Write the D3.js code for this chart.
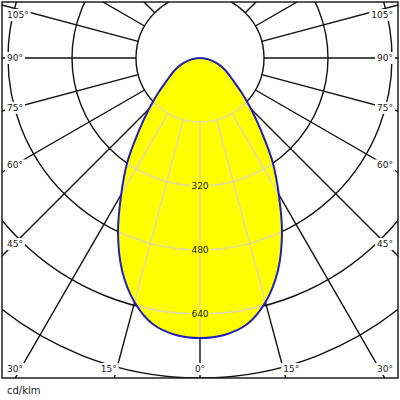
<!DOCTYPE html>
<html>
<head>
<meta charset="utf-8">
<script src="https://cdn.jsdelivr.net/npm/d3@7"></script>
<style>
  body { margin: 0; background: #fff; }
  text { font-family: "DejaVu Sans", Verdana, sans-serif; }
</style>
</head>
<body>
<div id="chart"></div>
<script>
// intensity distribution, symmetric, angle from nadir (deg) and cd/klm
var angles = [0, 5, 10, 15, 20, 25, 30, 35, 40, 45, 50, 55, 60, 65, 70, 75, 80, 85, 90];
var intensity = [700, 695, 676, 632, 568, 485, 394, 316, 238, 181, 137, 104, 84, 68, 52, 37, 24, 12, 0];

// grid rings and labelled rings
var rings = [160, 320, 480, 640, 800];
var ringLabels = [320, 480, 640];

// angle labels
var angleLabels = [0, 15, 30, 45, 60, 75, 90, 105];
var unitLabel = "cd/klm";

var width = 400, height = 400;
var cx = 200, cy = 58;
var frame = {x0: 2, y0: 2, x1: 398, y1: 378};

var r = d3.scaleLinear().domain([0, 800]).range([0, 320]);

// polar (deg from straight down, + to the right) to screen
function pt(deg, val) {
	var a = deg * Math.PI / 180;
	return [cx + r(val) * Math.sin(a), cy + r(val) * Math.cos(a)];
}

var svg = d3.select("#chart")
	.append("svg")
	.attr("width", width)
	.attr("height", height);

var defs = svg.append("defs");
defs.append("clipPath").attr("id", "frameClip")
	.append("rect")
	.attr("x", frame.x0).attr("y", frame.y0)
	.attr("width", frame.x1 - frame.x0).attr("height", frame.y1 - frame.y0);

//build the closed curve: right side down to 0 then left side back up
var curvePts = [];
for (var i = angles.length - 1; i >= 0; i--) curvePts.push(pt(angles[i], intensity[i]));
for (var i = 1; i < angles.length - 1; i++) curvePts.push(pt(-angles[i], intensity[i]));

var line = d3.line().curve(d3.curveCatmullRomClosed.alpha(0.5));

defs.append("clipPath").attr("id", "curveClip")
	.append("path")
	.attr("d", line(curvePts));

var spokes = d3.range(-180, 181, 15);

function drawGrid(g, color, w) {
	g.selectAll("circle")
		.data(rings)
		.enter()
		.append("circle")
		.attr("cx", cx).attr("cy", cy)
		.attr("r", function(d) { return r(d); })
		.attr("fill", "none")
		.attr("stroke", color)
		.attr("stroke-width", w);
	g.selectAll("line")
		.data(spokes)
		.enter()
		.append("line")
		.attr("x1", function(d) { return pt(d, rings[0])[0]; })
		.attr("y1", function(d) { return pt(d, rings[0])[1]; })
		.attr("x2", function(d) { return pt(d, 1600)[0]; })
		.attr("y2", function(d) { return pt(d, 1600)[1]; })
		.attr("stroke", color)
		.attr("stroke-width", w);
}

// black grid
drawGrid(svg.append("g").attr("clip-path", "url(#frameClip)"), "#111", 1.4);

// yellow light distribution
svg.append("path")
	.attr("d", line(curvePts))
	.attr("fill", "#ffff00")
	.attr("stroke", "none");

// pale grid inside the curve
drawGrid(svg.append("g").attr("clip-path", "url(#curveClip)"), "#e3dc9c", 1.7);

// outline
svg.append("path")
	.attr("d", line(curvePts))
	.attr("fill", "none")
	.attr("stroke", "#2020b8")
	.attr("stroke-width", 2)
	.attr("stroke-linejoin", "round");

// ring values along 0 deg
var ringG = svg.append("g");
ringLabels.forEach(function(v) {
	var p = pt(0, v);
	var t = ringG.append("text")
		.attr("x", p[0]).attr("y", p[1])
		.attr("text-anchor", "middle")
		.attr("dominant-baseline", "central")
		.attr("font-size", "9px")
		.attr("fill", "#222")
		.text(v);
	var w = t.node().getComputedTextLength();
	ringG.insert("rect", "text")
		.attr("x", p[0] - w / 2 - 1).attr("y", p[1] - 5)
		.attr("width", w + 2).attr("height", 10)
		.attr("fill", "#ffff00");
});

// angle labels at the frame
var labG = svg.append("g");
var inX1 = 386, inY1 = 369;

function placeLabel(deg) {
	var side = deg < 0 ? -1 : 1;
	var a = Math.abs(deg) * Math.PI / 180;
	var sx = Math.sin(a), cyv = Math.cos(a);
	var tx = sx > 1e-6 ? (inX1 - cx) / sx : Infinity;
	var ty = cyv > 1e-6 ? (inY1 - cy) / cyv : Infinity;
	var t = labG.append("text")
		.attr("font-size", "9px")
		.attr("fill", "#222")
		.attr("dominant-baseline", "central")
		.text(Math.abs(deg) + "°");
	var w = t.node().getComputedTextLength();
	var xs, y;
	if (tx < ty) {
		y = Math.max(15, cy + tx * cyv);
		xs = side > 0 ? 393 - w : 7;
	} else {
		y = inY1;
		var ix = cx + side * ty * sx;
		if (deg === 0) xs = ix - w / 2;
		else if (side > 0) xs = Math.min(ix, 393 - w);
		else xs = Math.max(ix, 7 + w) - w;
	}
	t.attr("x", xs).attr("y", y);
	labG.insert("rect", "text")
		.attr("x", xs - 2).attr("y", y - 6)
		.attr("width", w + 4).attr("height", 12)
		.attr("fill", "#fff");
}

angleLabels.forEach(function(d) {
	placeLabel(d);
	if (d !== 0) placeLabel(-d);
});

// frame
svg.append("rect")
	.attr("x", frame.x0).attr("y", frame.y0)
	.attr("width", frame.x1 - frame.x0).attr("height", frame.y1 - frame.y0)
	.attr("fill", "none")
	.attr("stroke", "#111")
	.attr("stroke-width", 1.4);

svg.append("text")
	.attr("x", 7).attr("y", 394)
	.attr("font-size", "10px")
	.attr("fill", "#222")
	.text(unitLabel);
</script>
</body>
</html>
